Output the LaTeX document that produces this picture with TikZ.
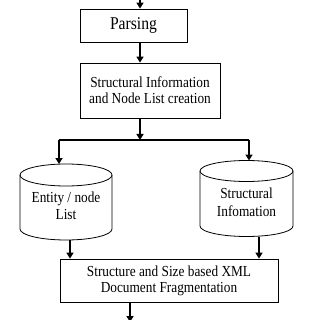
\documentclass[tikz,border=0pt]{standalone}
\usepackage{fontspec}
\setmainfont{Liberation Serif}
\newfontfamily\reffont[FakeStretch=0.87]{Liberation Serif}
\usetikzlibrary{arrows.meta,calc}
\begin{document}
\begin{tikzpicture}[x=1pt,y=-1pt,
  box/.style={draw, line width=0.8pt, inner sep=0pt, align=center, font=\reffont\fontsize{15.3}{16}\selectfont},
  txt/.style={inner sep=0pt, align=center, font=\reffont\fontsize{15.3}{17.5}\selectfont},
  flow/.style={line width=1.8pt, -{Triangle[length=6pt,width=7pt]}},
  link/.style={line width=1.8pt},
  cyl/.style={draw, line width=0.8pt, fill=white}]
\useasboundingbox (0,0) rectangle (320,320);
% top incoming arrow
\coordinate (top) at (140,-2);
\node[box, minimum width=107pt, minimum height=33pt, font=\reffont\fontsize{18}{20}\selectfont] (parse) at (133.5,25.5) {Parsing};
\node[box, minimum width=140pt, minimum height=55pt] (struct) at (150,90.5) {Structural Information\\and Node List creation};
\draw[flow] (top) -- (top |- parse.north);
\draw[flow] (parse.south -| top) -- (struct.north -| top);
% split
\coordinate (split) at (140,140);
\coordinate (sl) at (59,140);
\coordinate (sr) at (249,140);
\draw[flow] (struct.south -| split) -- (split);
\draw[link] (sl) -- (sr);
% left cylinder
\draw[cyl] (20,175) -- (20,229) arc[start angle=180,end angle=0,x radius=46,y radius=11] -- (112,175);
\draw[cyl] (66,175) ellipse [x radius=46, y radius=11];
\coordinate (entTop) at (59,164);
\coordinate (entBot) at (70,240);
\node[txt] (ent) at (66,206) {Entity / node\\List};
% right cylinder
\draw[cyl] (200,171) -- (200,226) arc[start angle=180,end angle=0,x radius=46.5,y radius=10.5] -- (293,171);
\draw[cyl] (246.5,171) ellipse [x radius=46.5, y radius=10.5];
\coordinate (infTop) at (249,160.5);
\coordinate (infBot) at (259,236.5);
\node[txt] (inf) at (246.5,202.5) {Structural\\Infomation};
\draw[flow] (sl) -- (entTop);
\draw[flow] (sr) -- (infTop);
% fragmentation box
\node[box, minimum width=218pt, minimum height=43pt] (frag) at (169,280.5) {Structure and Size based XML\\Document Fragmentation};
\draw[flow] (entBot) -- (entBot |- frag.north);
\draw[flow] (infBot) -- (infBot |- frag.north);
\coordinate (out) at (130,322);
\draw[flow] (frag.south -| out) -- (out);
\end{tikzpicture}
\end{document}
